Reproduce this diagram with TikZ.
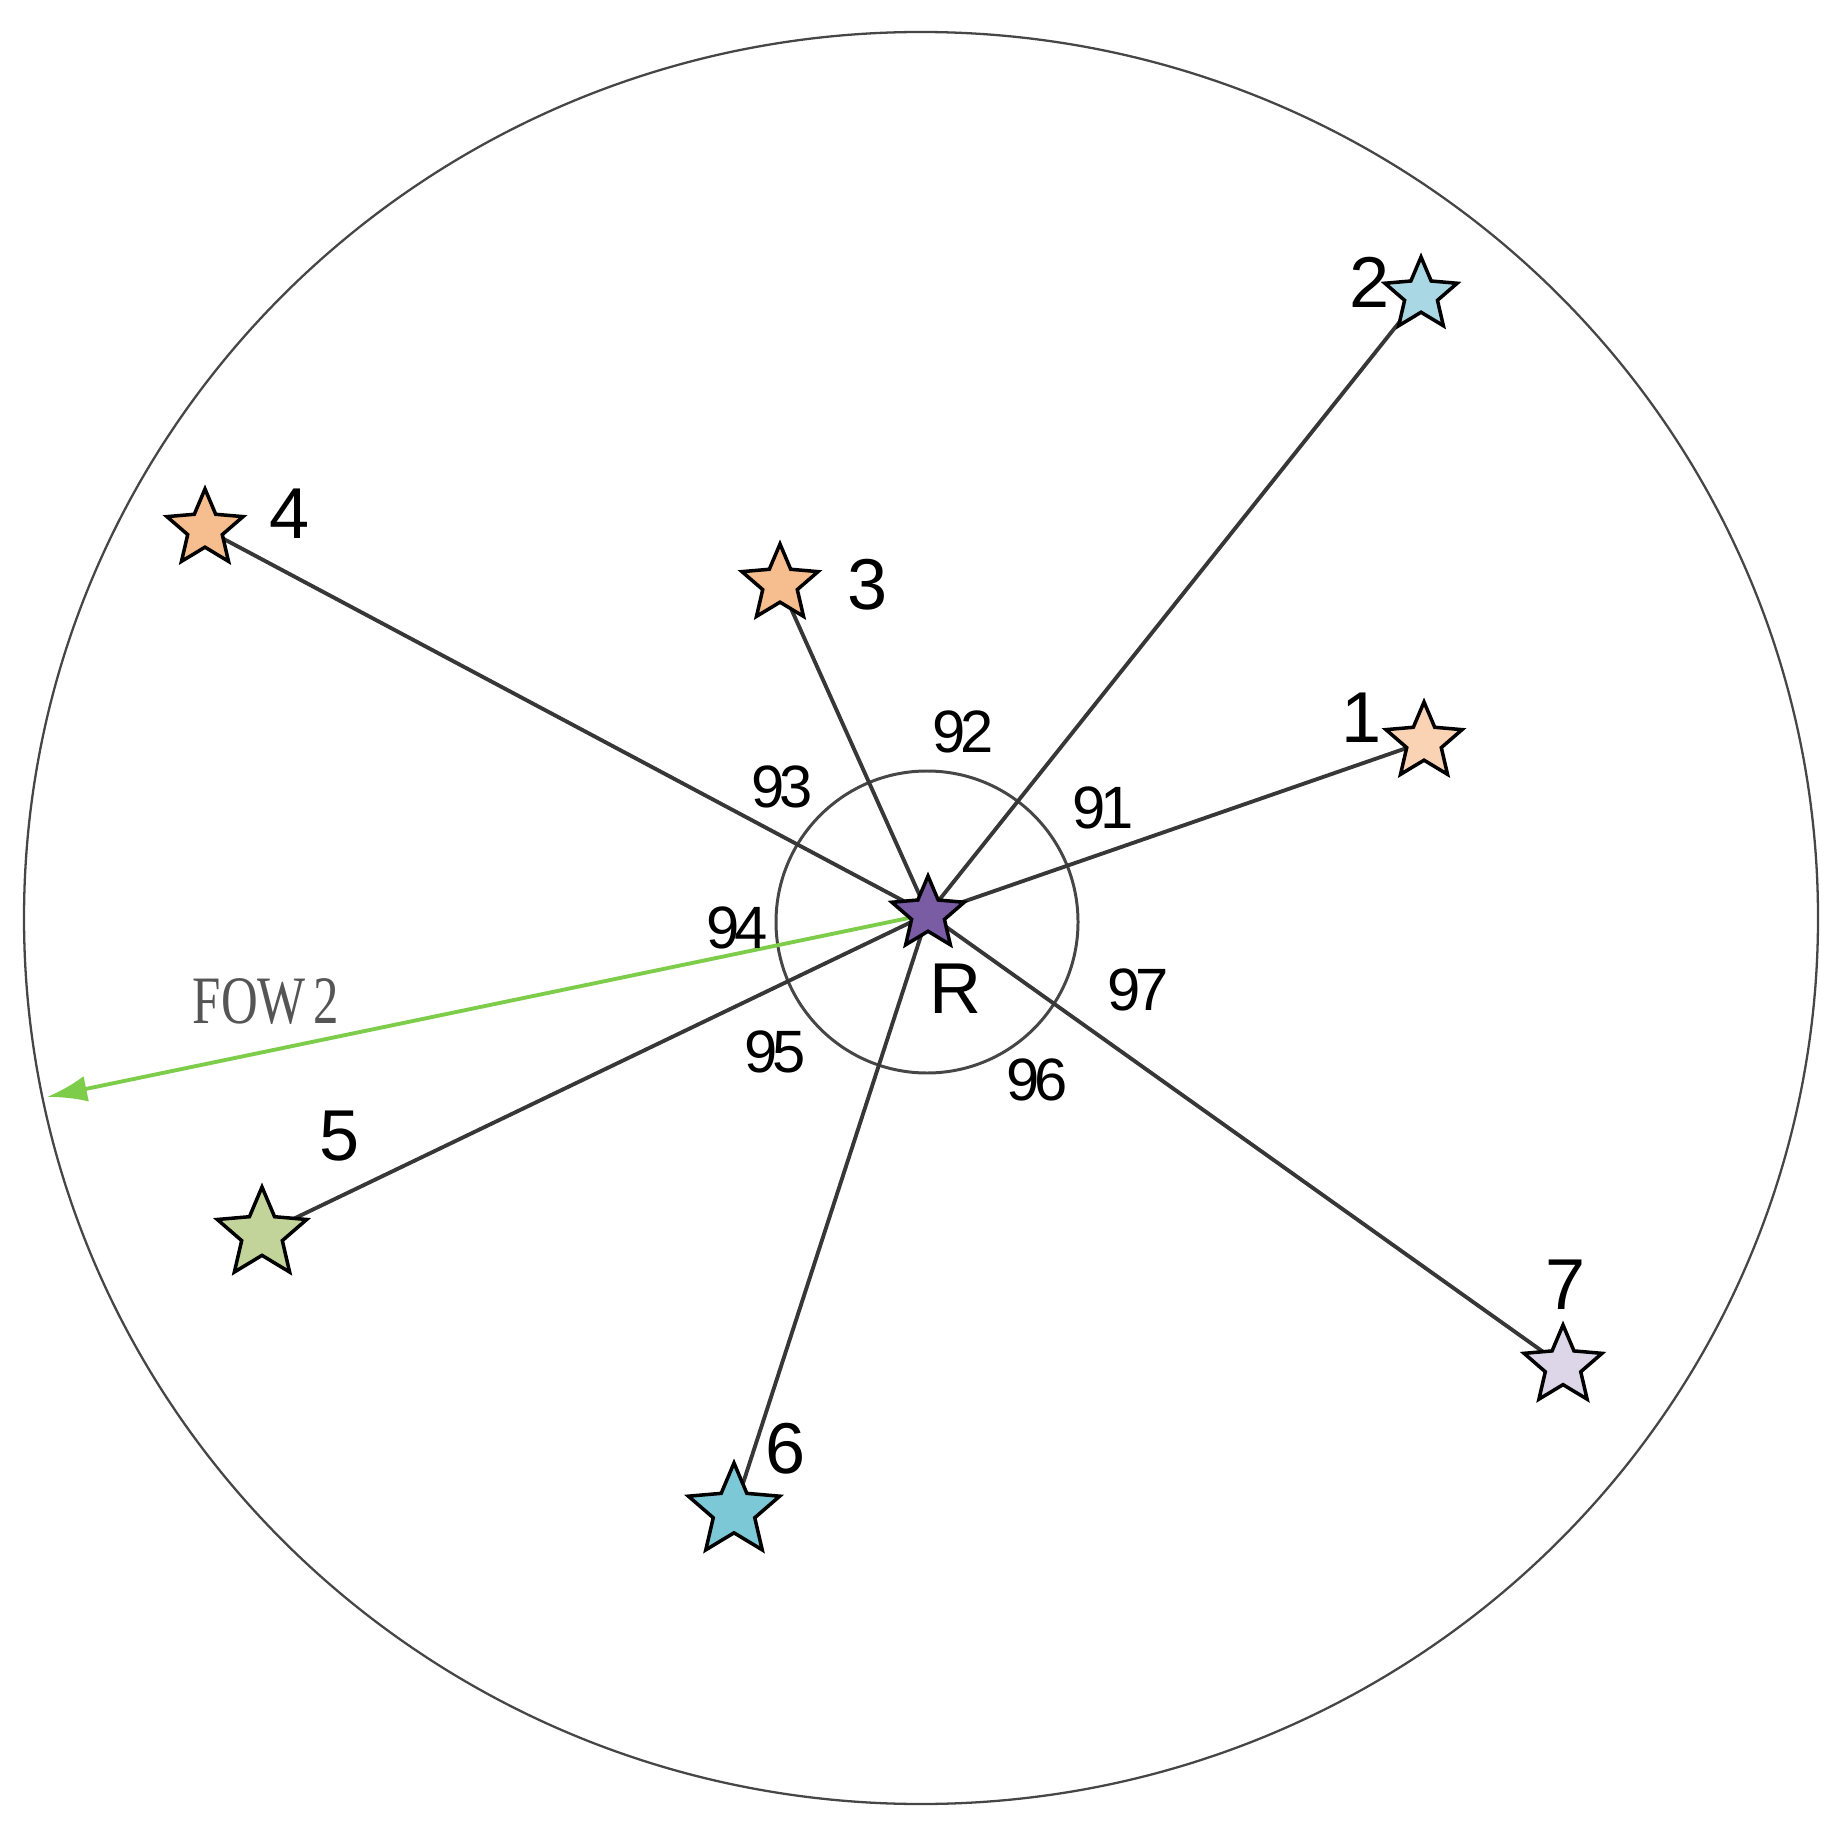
\documentclass[tikz,border=0pt]{standalone}
\usepackage{fontspec}
\setmainfont{Liberation Sans}
\newfontfamily\fowfont{Liberation Serif}
\usetikzlibrary{shapes.geometric,arrows.meta,backgrounds}
\definecolor{cone}{RGB}{250,210,180}
\definecolor{ctwo}{RGB}{170,215,228}
\definecolor{cthree}{RGB}{246,190,142}
\definecolor{cfive}{RGB}{195,212,155}
\definecolor{csix}{RGB}{125,200,215}
\definecolor{cseven}{RGB}{220,214,232}
\definecolor{cr}{RGB}{122,92,165}
\definecolor{linegray}{RGB}{55,55,55}
\definecolor{circgray}{RGB}{70,70,70}
\definecolor{fowgreen}{RGB}{125,205,75}
\definecolor{fowtext}{RGB}{85,85,85}
\begin{document}
\begin{tikzpicture}[x=0.1mm,y=-0.1mm,
  starnode/.style={star, star points=5, star point ratio=2.2, draw=black,
    line width=1pt, inner sep=0pt, minimum size=8mm},
  ray/.style={draw=linegray, line width=1.1pt},
  ring/.style={draw=circgray, inner sep=0pt},
  numlabel/.style={inner sep=0pt, font=\fontsize{20.5}{24}\selectfont},
  anglabel/.style={inner sep=0pt, font=\fontsize{17}{20}\selectfont},
  fowline/.style={draw=fowgreen, line width=1.1pt, -{Latex[length=4mm,width=2.6mm]}},
  fowlabel/.style={inner sep=0pt, text=fowtext, font=\fowfont\fontsize{19.3}{22}\selectfont, xscale=0.75}]
\useasboundingbox (0,0) rectangle (1847,1821);

% stars
\node[starnode, fill=cone] (s1) at (1424,742) {};
\node[starnode, fill=ctwo, minimum size=7.6mm] (s2) at (1421,295) {};
\node[starnode, fill=cthree] (s3) at (780,584) {};
\node[starnode, fill=cthree] (s4) at (205,529) {};
\node[starnode, fill=cfive, minimum size=9.4mm] (s5) at (262,1234) {};
\node[starnode, fill=csix, minimum size=9.6mm] (s6) at (734,1511) {};
\node[starnode, fill=cseven, minimum size=8.2mm] (s7) at (1563,1366) {};
\node[starnode, fill=cr, minimum size=7.6mm] (R) at (928,914) {};

\coordinate (fowend) at (47,1097);

\begin{scope}[on background layer]
  \node[ring, ellipse, line width=0.65pt, minimum width=179.4mm, minimum height=177.2mm] (outer) at (921,918) {};
  \node[ring, circle, line width=0.85pt, minimum size=30.2mm] (inner) at (927,922) {};
  \draw[ray] (R.center) -- (s1.center);
  \draw[ray] (R.center) -- (s2.center);
  \draw[ray] (R.center) -- (s3.center);
  \draw[ray] (R.center) -- (s4.center);
  \draw[ray] (R.center) -- (s5.center);
  \draw[ray] (R.center) -- (s6.center);
  \draw[ray] (R.center) -- (s7.center);
  \draw[fowline] (R.center) -- (fowend);
\end{scope}

% point labels
\node[numlabel] (l1) at (1362,718) {1};
\node[numlabel] (l2) at (1370,282) {2};
\node[numlabel] (l3) at (868,585) {3};
\node[numlabel] (l4) at (290,514) {4};
\node[numlabel] (l5) at (340,1136) {5};
\node[numlabel] (l6) at (786,1449) {6};
\node[numlabel] (l7) at (1566,1285) {7};
\node[numlabel] (lR) at (955,989) {R};

% angle labels
\node[anglabel] (a1) at (1103,808) {9\kern-0.08em1};
\node[anglabel] (a2) at (963,732) {9\kern-0.08em2};
\node[anglabel] (a3) at (782,787) {9\kern-0.08em3};
\node[anglabel] (a4) at (737,928) {9\kern-0.08em4};
\node[anglabel] (a5) at (775,1052) {9\kern-0.08em5};
\node[anglabel] (a6) at (1037,1080) {9\kern-0.08em6};
\node[anglabel] (a7) at (1138,990) {9\kern-0.08em7};

\node[fowlabel] (fow) at (266,1002) {FOW\kern-0.1em\ 2};
\end{tikzpicture}
\end{document}
